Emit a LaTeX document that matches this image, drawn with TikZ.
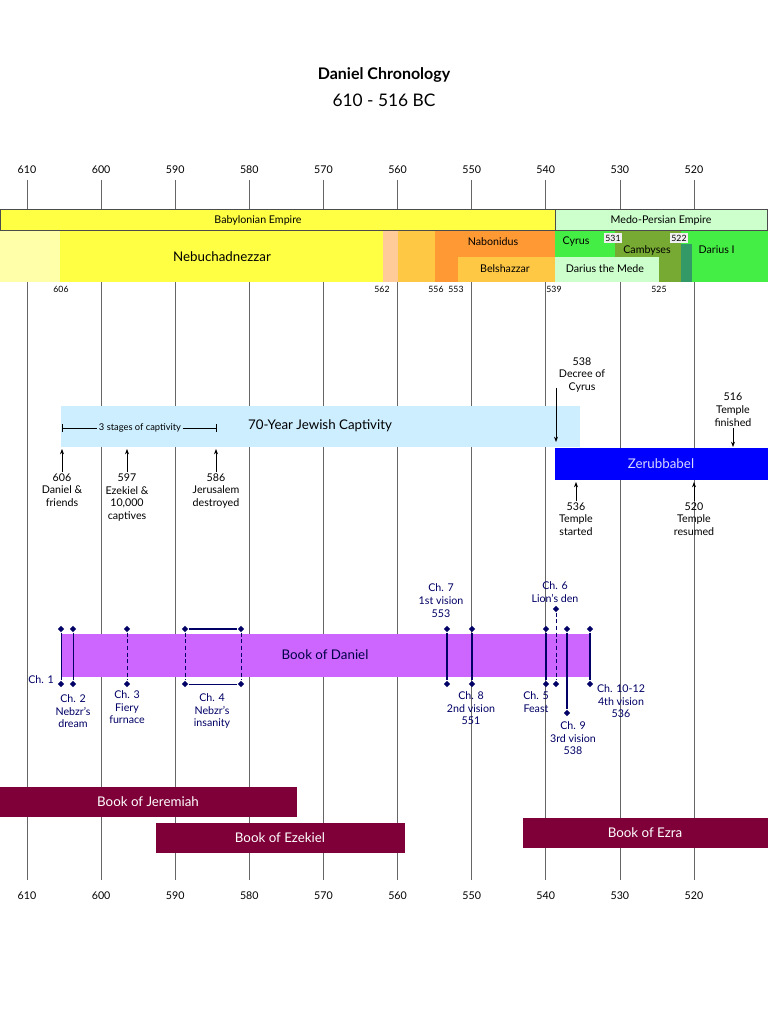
\documentclass[tikz,border=0pt]{standalone}
\usepackage{fontspec}
\setmainfont{Lato}
\begin{document}
\begin{tikzpicture}[x=0.75pt,y=-0.75pt,
  lbl/.style={font=\fontsize{8}{9.5}\selectfont,align=center,inner sep=1pt},
  dlbl/.style={lbl,text=navy},
  grid/.style={draw=gray!80!black,line width=0.5pt},
  dm/.style={fill=navy,draw=none,diamond,minimum size=5pt,inner sep=0pt},
  box/.style={draw=none,inner sep=0pt},
  arr/.style={-{Stealth[length=4pt]},line width=0.5pt}]
\usetikzlibrary{shapes.geometric,arrows.meta}
\definecolor{navy}{HTML}{000066}
\definecolor{byel}{HTML}{FFFF44}
\definecolor{lyel}{HTML}{FFFFAA}
\definecolor{peach}{HTML}{FFCC99}
\definecolor{oyel}{HTML}{FFC844}
\definecolor{orng}{HTML}{FF9933}
\definecolor{lgrn}{HTML}{CCFFCC}
\definecolor{bgrn}{HTML}{44EE44}
\definecolor{cgrn}{HTML}{77AA33}
\definecolor{teal}{HTML}{339966}
\definecolor{lblue}{HTML}{CCEEFF}
\definecolor{zblue}{HTML}{0000FF}
\definecolor{purp}{HTML}{CC66FF}
\definecolor{maroon}{HTML}{7F0038}
\useasboundingbox (0,0) rectangle (768,1024);
\fill[white] (0,0) rectangle (768,1024);
% title
\node[font=\bfseries\fontsize{12}{14}\selectfont] (t1) at (384,75) {Daniel Chronology};
\node[font=\fontsize{13}{15}\selectfont] (t2) at (384,100) {610 - 516 BC};
% grid and axes
\foreach \yr [evaluate=\yr as \xx using {27+(610-\yr)*7.411}] in {610,600,...,520}{
  \draw[grid] (\xx,180) -- (\xx,880);
  \node[lbl] (top\yr) at (\xx,170) {\yr};
  \node[lbl] (bot\yr) at (\xx,896) {\yr};
}
% empires
\fill[byel] (0,209) rectangle (555,230);
\draw[gray!60!black,line width=0.4pt] (0,209) rectangle (555,230);
\fill[lgrn] (555,209) rectangle (768,230);
\draw[gray!60!black,line width=0.4pt] (555,209) rectangle (767.5,230);
\node[lbl] (bab) at (258,220) {Babylonian Empire};
\node[lbl] (mp) at (661,220) {Medo-Persian Empire};
% kings
\fill[lyel] (0,231) rectangle (60,282);
\fill[byel] (60,231) rectangle (383,282);
\fill[peach] (383,231) rectangle (398,282);
\fill[oyel] (398,231) rectangle (435,282);
\fill[orng] (435,231) rectangle (555,282);
\fill[oyel] (458,257) rectangle (555,282);
\fill[bgrn] (555,231) rectangle (768,282);
\fill[cgrn] (615,231) rectangle (681,282);
\fill[lgrn] (555,257) rectangle (659,282);
\fill[teal] (681,244) rectangle (692,282);
\node[font=\fontsize{10}{12}\selectfont] (neb) at (222,257) {Nebuchadnezzar};
\node[lbl] (nab) at (493,242) {Nabonidus};
\node[lbl] (bel) at (505,269) {Belshazzar};
\node[lbl,anchor=west] (cyr) at (561,242) {Cyrus};
\node[lbl] (camb) at (647,250) {Cambyses};
\node[lbl] (dm) at (605,269) {Darius the Mede};
\node[lbl,anchor=west] (d1) at (697,250) {Darius I};
\node[lbl,fill=gray!12,font=\fontsize{6.5}{8}\selectfont] (k531) at (613,238) {531};
\node[lbl,fill=gray!12,font=\fontsize{6.5}{8}\selectfont] (k522) at (679,238) {522};
\foreach \t/\x in {606/61,562/382,556/436,553/456,539/554,525/659}
  \node[lbl,font=\fontsize{6.5}{8}\selectfont] (d\t) at (\x,289) {\t};
% captivity
\fill[lblue] (61,406) rectangle (580,447);
\node[font=\fontsize{10}{12}\selectfont] (cap) at (320,426) {70-Year Jewish Captivity};
\node[lbl,font=\fontsize{7}{8}\selectfont] (stg) at (140,428) {3 stages of captivity};
\coordinate (b1) at (62,428); \coordinate (b2) at (216,428);
\draw[line width=0.5pt] (b1) -- (stg.west) (stg.east) -- (b2);
\draw[line width=0.5pt] (62,424) -- (62,432) (216,424) -- (216,432);
\foreach \x/\t [count=\i] in {62/{606\\Daniel \&\\friends},127/{597\\Ezekiel \&\\10,000\\captives},216/{586\\Jerusalem\\destroyed}}{
  \node[lbl,anchor=north] (c\i) at (\x,472) {\t};
  \coordinate (ca\i) at (\x,449);
  \draw[arr] (c\i.north) -- (ca\i);
}
% Zerubbabel
\fill[zblue] (555,448) rectangle (768,480);
\node[font=\fontsize{10}{12}\selectfont,text=white!85!blue] (zer) at (661,464) {Zerubbabel};
\node[lbl,anchor=south] (dec) at (582,394) {538\\Decree of\\Cyrus};
\coordinate (deca) at (556,442);
\draw[arr] (556,388) -- (deca);
\node[lbl,anchor=south] (fin) at (733,428) {516\\Temple\\finished};
\coordinate (fina) at (733,447);
\draw[arr] (fin.south) -- (fina);
\node[lbl,anchor=north] (st) at (576,501) {536\\Temple\\started};
\coordinate (sta) at (576,482);
\draw[arr] (st.north) -- (sta);
\node[lbl,anchor=north] (res) at (694,501) {520\\Temple\\resumed};
\coordinate (resa) at (694,482);
\draw[arr] (res.north) -- (resa);
% Book of Daniel
\fill[purp] (61,634) rectangle (590,677);
\node[font=\fontsize{10}{12}\selectfont,text=navy!70!black] (bod) at (325,655) {Book of Daniel};
\foreach \n/\x/\a/\b/\st/\w in {p1/61/629/684/solid/0.7pt,p2/73/629/684/solid/0.7pt,p3/127/629/684/densely dashed/0.6pt,p4a/185/629/684/densely dashed/0.6pt,p4b/241/629/684/densely dashed/0.6pt,p7/447/629/684/solid/1.3pt,p8/472/629/684/solid/1.3pt,p5/546/629/684/solid/0.8pt,p6/556/609/684/densely dashed/0.6pt,p9/567/629/713/solid/1.3pt,p10/590/629/684/solid/0.8pt}{
  \node[dm] (\n t) at (\x,\a) {};
  \node[dm] (\n b) at (\x,\b) {};
  \draw[navy,line width=\w,\st] (\n t) -- (\n b);
}
\draw[navy,line width=1pt] (p4at) -- (p4bt);
\draw[navy,line width=0.7pt] (p4ab) -- (p4bb);
\node[dlbl] (l1) at (41,680) {Ch. 1};
\node[dlbl,anchor=north] (l2) at (73,693) {Ch. 2\\Nebzr's\\dream};
\node[dlbl,anchor=north] (l3) at (127,689) {Ch. 3\\Fiery\\furnace};
\node[dlbl,anchor=north] (l4) at (212,692) {Ch. 4\\Nebzr's\\insanity};
\node[dlbl,anchor=south] (l7) at (441,619) {Ch. 7\\1st vision\\553};
\node[dlbl,anchor=north] (l8) at (471,690) {Ch. 8\\2nd vision\\551};
\node[dlbl,anchor=north] (l5) at (536,690) {Ch. 5\\Feast};
\node[dlbl,anchor=south] (l6) at (555,604) {Ch. 6\\Lion's den};
\node[dlbl,anchor=north] (l9) at (573,720) {Ch. 9\\3rd vision\\538};
\node[dlbl,anchor=north] (l10) at (621,683) {Ch. 10-12\\4th vision\\536};
% books
\fill[maroon] (0,787) rectangle (297,817);
\node[font=\fontsize{10}{12}\selectfont,text=white] (jer) at (148,802) {Book of Jeremiah};
\fill[maroon] (156,823) rectangle (405,853);
\node[font=\fontsize{10}{12}\selectfont,text=white] (eze) at (280,838) {Book of Ezekiel};
\fill[maroon] (523,818) rectangle (768,848);
\node[font=\fontsize{10}{12}\selectfont,text=white] (ezr) at (645,833) {Book of Ezra};
\end{tikzpicture}
\end{document}
